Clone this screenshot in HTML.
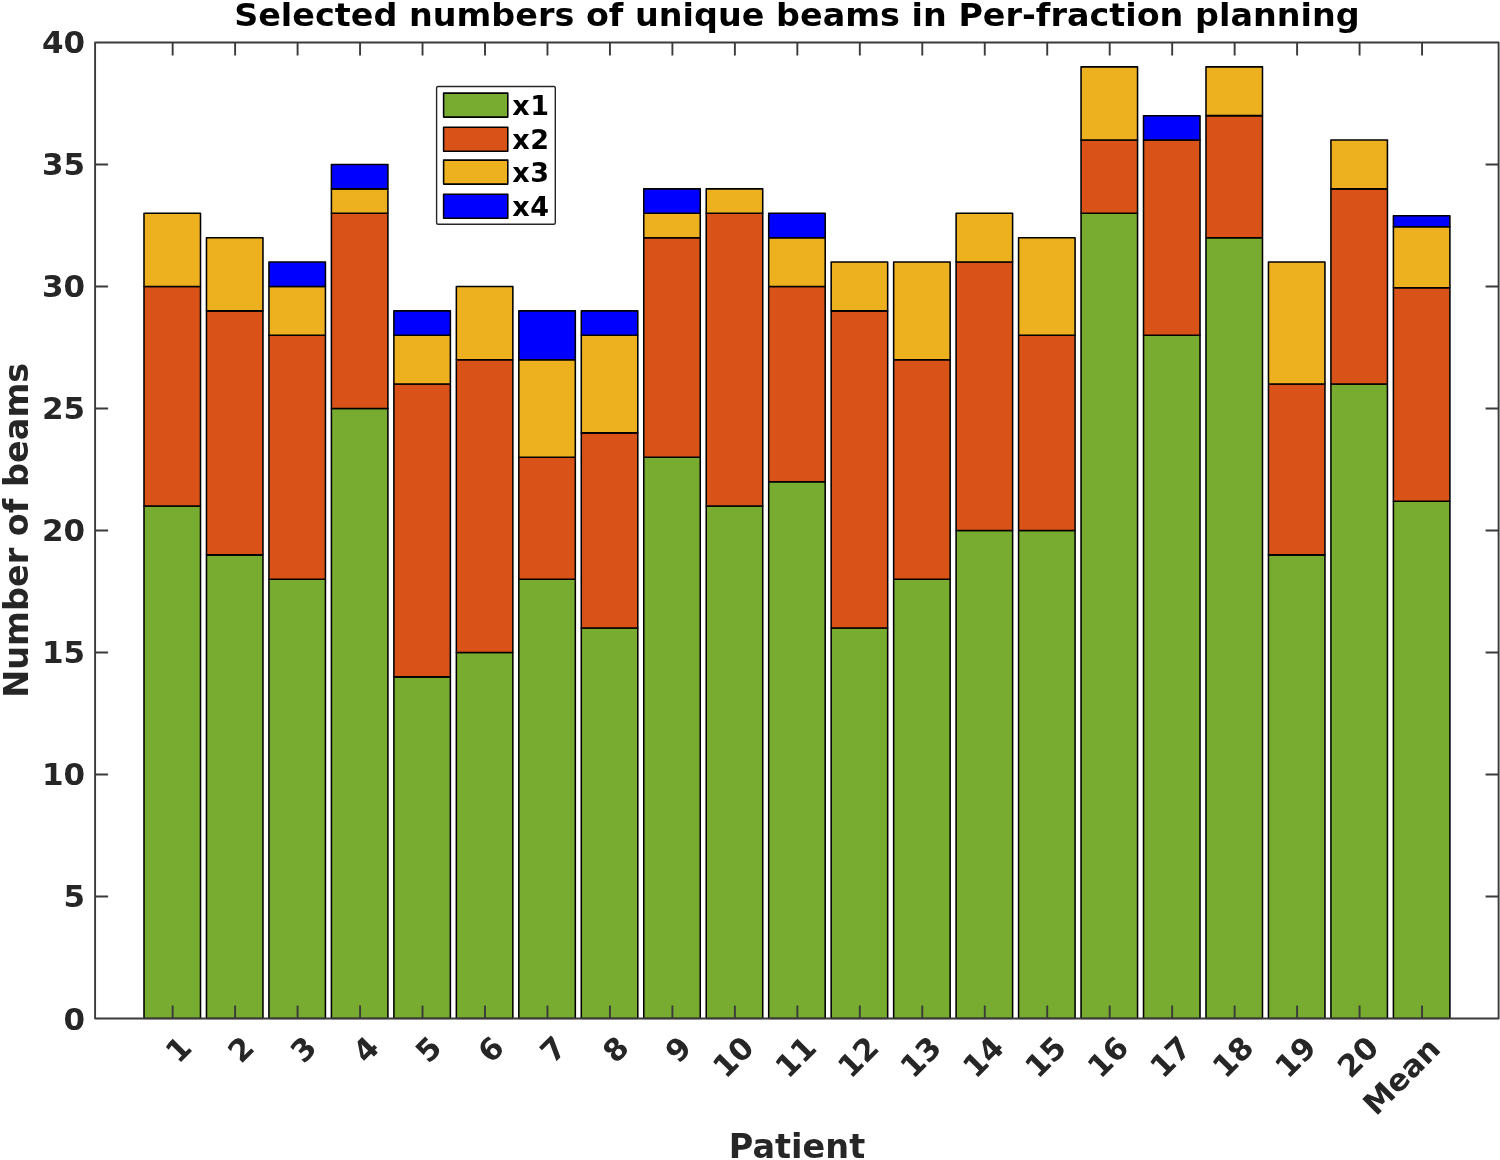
<!DOCTYPE html>
<html lang="en"><head><meta charset="utf-8"><title>Selected numbers of unique beams in Per-fraction planning</title>
<style>html,body{margin:0;padding:0;background:#fff}svg{display:block}text{font-family:"DejaVu Sans","Liberation Sans",sans-serif;font-weight:bold}</style></head><body>
<svg width="1500" height="1160" viewBox="0 0 1500 1160">
<rect width="1500" height="1160" fill="#fff"/>
<clipPath id="plot"><rect x="0" y="0" width="1500" height="1019.40"/></clipPath>
<g clip-path="url(#plot)" stroke="#000" stroke-width="1.55" stroke-linejoin="round">
<rect x="144.00" y="506.07" width="56.50" height="512.43" fill="#77AC30"/>
<rect x="144.00" y="286.46" width="56.50" height="219.61" fill="#D95319"/>
<rect x="144.00" y="213.26" width="56.50" height="73.20" fill="#EDB120"/>
<rect x="206.47" y="554.88" width="56.50" height="463.62" fill="#77AC30"/>
<rect x="206.47" y="310.86" width="56.50" height="244.01" fill="#D95319"/>
<rect x="206.47" y="237.66" width="56.50" height="73.20" fill="#EDB120"/>
<rect x="268.94" y="579.28" width="56.50" height="439.22" fill="#77AC30"/>
<rect x="268.94" y="335.27" width="56.50" height="244.01" fill="#D95319"/>
<rect x="268.94" y="286.46" width="56.50" height="48.80" fill="#EDB120"/>
<rect x="268.94" y="262.06" width="56.50" height="24.40" fill="#0000FF"/>
<rect x="331.41" y="408.47" width="56.50" height="610.03" fill="#77AC30"/>
<rect x="331.41" y="213.26" width="56.50" height="195.21" fill="#D95319"/>
<rect x="331.41" y="188.86" width="56.50" height="24.40" fill="#EDB120"/>
<rect x="331.41" y="164.46" width="56.50" height="24.40" fill="#0000FF"/>
<rect x="393.88" y="676.88" width="56.50" height="341.62" fill="#77AC30"/>
<rect x="393.88" y="384.07" width="56.50" height="292.81" fill="#D95319"/>
<rect x="393.88" y="335.27" width="56.50" height="48.80" fill="#EDB120"/>
<rect x="393.88" y="310.86" width="56.50" height="24.40" fill="#0000FF"/>
<rect x="456.35" y="652.48" width="56.50" height="366.02" fill="#77AC30"/>
<rect x="456.35" y="359.67" width="56.50" height="292.81" fill="#D95319"/>
<rect x="456.35" y="286.46" width="56.50" height="73.20" fill="#EDB120"/>
<rect x="518.82" y="579.28" width="56.50" height="439.22" fill="#77AC30"/>
<rect x="518.82" y="457.27" width="56.50" height="122.01" fill="#D95319"/>
<rect x="518.82" y="359.67" width="56.50" height="97.60" fill="#EDB120"/>
<rect x="518.82" y="310.86" width="56.50" height="48.80" fill="#0000FF"/>
<rect x="581.29" y="628.08" width="56.50" height="390.42" fill="#77AC30"/>
<rect x="581.29" y="432.87" width="56.50" height="195.21" fill="#D95319"/>
<rect x="581.29" y="335.27" width="56.50" height="97.61" fill="#EDB120"/>
<rect x="581.29" y="310.86" width="56.50" height="24.40" fill="#0000FF"/>
<rect x="643.76" y="457.27" width="56.50" height="561.23" fill="#77AC30"/>
<rect x="643.76" y="237.66" width="56.50" height="219.61" fill="#D95319"/>
<rect x="643.76" y="213.26" width="56.50" height="24.40" fill="#EDB120"/>
<rect x="643.76" y="188.86" width="56.50" height="24.40" fill="#0000FF"/>
<rect x="706.23" y="506.07" width="56.50" height="512.43" fill="#77AC30"/>
<rect x="706.23" y="213.26" width="56.50" height="292.81" fill="#D95319"/>
<rect x="706.23" y="188.86" width="56.50" height="24.40" fill="#EDB120"/>
<rect x="768.70" y="481.67" width="56.50" height="536.83" fill="#77AC30"/>
<rect x="768.70" y="286.46" width="56.50" height="195.21" fill="#D95319"/>
<rect x="768.70" y="237.66" width="56.50" height="48.80" fill="#EDB120"/>
<rect x="768.70" y="213.26" width="56.50" height="24.40" fill="#0000FF"/>
<rect x="831.17" y="628.08" width="56.50" height="390.42" fill="#77AC30"/>
<rect x="831.17" y="310.86" width="56.50" height="317.22" fill="#D95319"/>
<rect x="831.17" y="262.06" width="56.50" height="48.80" fill="#EDB120"/>
<rect x="893.64" y="579.28" width="56.50" height="439.22" fill="#77AC30"/>
<rect x="893.64" y="359.67" width="56.50" height="219.61" fill="#D95319"/>
<rect x="893.64" y="262.06" width="56.50" height="97.61" fill="#EDB120"/>
<rect x="956.11" y="530.48" width="56.50" height="488.02" fill="#77AC30"/>
<rect x="956.11" y="262.06" width="56.50" height="268.41" fill="#D95319"/>
<rect x="956.11" y="213.26" width="56.50" height="48.80" fill="#EDB120"/>
<rect x="1018.58" y="530.48" width="56.50" height="488.02" fill="#77AC30"/>
<rect x="1018.58" y="335.27" width="56.50" height="195.21" fill="#D95319"/>
<rect x="1018.58" y="237.66" width="56.50" height="97.61" fill="#EDB120"/>
<rect x="1081.05" y="213.26" width="56.50" height="805.24" fill="#77AC30"/>
<rect x="1081.05" y="140.06" width="56.50" height="73.20" fill="#D95319"/>
<rect x="1081.05" y="66.85" width="56.50" height="73.20" fill="#EDB120"/>
<rect x="1143.52" y="335.27" width="56.50" height="683.23" fill="#77AC30"/>
<rect x="1143.52" y="140.06" width="56.50" height="195.21" fill="#D95319"/>
<rect x="1143.52" y="115.65" width="56.50" height="24.40" fill="#0000FF"/>
<rect x="1205.99" y="237.66" width="56.50" height="780.84" fill="#77AC30"/>
<rect x="1205.99" y="115.65" width="56.50" height="122.01" fill="#D95319"/>
<rect x="1205.99" y="66.85" width="56.50" height="48.80" fill="#EDB120"/>
<rect x="1268.46" y="554.88" width="56.50" height="463.62" fill="#77AC30"/>
<rect x="1268.46" y="384.07" width="56.50" height="170.81" fill="#D95319"/>
<rect x="1268.46" y="262.06" width="56.50" height="122.01" fill="#EDB120"/>
<rect x="1330.93" y="384.07" width="56.50" height="634.43" fill="#77AC30"/>
<rect x="1330.93" y="188.86" width="56.50" height="195.21" fill="#D95319"/>
<rect x="1330.93" y="140.06" width="56.50" height="48.80" fill="#EDB120"/>
<rect x="1393.40" y="501.19" width="56.50" height="517.31" fill="#77AC30"/>
<rect x="1393.40" y="287.68" width="56.50" height="213.51" fill="#D95319"/>
<rect x="1393.40" y="226.68" width="56.50" height="61.00" fill="#EDB120"/>
<rect x="1393.40" y="215.70" width="56.50" height="10.98" fill="#0000FF"/>
</g>
<g stroke="#3a3a3a" stroke-width="1.90" fill="none" stroke-linejoin="round">
<rect x="95.10" y="42.45" width="1403.50" height="976.05"/>
<path d="M172.65 1018.50v-13.00M172.65 42.45v13.00"/>
<path d="M235.12 1018.50v-13.00M235.12 42.45v13.00"/>
<path d="M297.59 1018.50v-13.00M297.59 42.45v13.00"/>
<path d="M360.06 1018.50v-13.00M360.06 42.45v13.00"/>
<path d="M422.53 1018.50v-13.00M422.53 42.45v13.00"/>
<path d="M485.00 1018.50v-13.00M485.00 42.45v13.00"/>
<path d="M547.47 1018.50v-13.00M547.47 42.45v13.00"/>
<path d="M609.94 1018.50v-13.00M609.94 42.45v13.00"/>
<path d="M672.41 1018.50v-13.00M672.41 42.45v13.00"/>
<path d="M734.88 1018.50v-13.00M734.88 42.45v13.00"/>
<path d="M797.35 1018.50v-13.00M797.35 42.45v13.00"/>
<path d="M859.82 1018.50v-13.00M859.82 42.45v13.00"/>
<path d="M922.29 1018.50v-13.00M922.29 42.45v13.00"/>
<path d="M984.76 1018.50v-13.00M984.76 42.45v13.00"/>
<path d="M1047.23 1018.50v-13.00M1047.23 42.45v13.00"/>
<path d="M1109.70 1018.50v-13.00M1109.70 42.45v13.00"/>
<path d="M1172.17 1018.50v-13.00M1172.17 42.45v13.00"/>
<path d="M1234.64 1018.50v-13.00M1234.64 42.45v13.00"/>
<path d="M1297.11 1018.50v-13.00M1297.11 42.45v13.00"/>
<path d="M1359.58 1018.50v-13.00M1359.58 42.45v13.00"/>
<path d="M1422.05 1018.50v-13.00M1422.05 42.45v13.00"/>
<path d="M95.10 896.49h13.00M1498.60 896.49h-13.00"/>
<path d="M95.10 774.49h13.00M1498.60 774.49h-13.00"/>
<path d="M95.10 652.48h13.00M1498.60 652.48h-13.00"/>
<path d="M95.10 530.48h13.00M1498.60 530.48h-13.00"/>
<path d="M95.10 408.47h13.00M1498.60 408.47h-13.00"/>
<path d="M95.10 286.46h13.00M1498.60 286.46h-13.00"/>
<path d="M95.10 164.46h13.00M1498.60 164.46h-13.00"/>
</g>
<g fill="#262626" font-size="31.00" text-anchor="end">
<text x="85.20" y="1029.50">0</text>
<text x="85.20" y="907.49">5</text>
<text x="85.20" y="785.49">10</text>
<text x="85.20" y="663.48">15</text>
<text x="85.20" y="541.48">20</text>
<text x="85.20" y="419.47">25</text>
<text x="85.20" y="297.46">30</text>
<text x="85.20" y="175.46">35</text>
<text x="85.20" y="53.45">40</text>
</g>
<g fill="#262626" font-size="30.50" text-anchor="end">
<text transform="translate(193.55 1049.50) rotate(-45)">1</text>
<text transform="translate(256.02 1049.50) rotate(-45)">2</text>
<text transform="translate(318.49 1049.50) rotate(-45)">3</text>
<text transform="translate(380.96 1049.50) rotate(-45)">4</text>
<text transform="translate(443.43 1049.50) rotate(-45)">5</text>
<text transform="translate(505.90 1049.50) rotate(-45)">6</text>
<text transform="translate(568.37 1049.50) rotate(-45)">7</text>
<text transform="translate(630.84 1049.50) rotate(-45)">8</text>
<text transform="translate(693.31 1049.50) rotate(-45)">9</text>
<text transform="translate(755.78 1049.50) rotate(-45)">10</text>
<text transform="translate(818.25 1049.50) rotate(-45)">11</text>
<text transform="translate(880.72 1049.50) rotate(-45)">12</text>
<text transform="translate(943.19 1049.50) rotate(-45)">13</text>
<text transform="translate(1005.66 1049.50) rotate(-45)">14</text>
<text transform="translate(1068.13 1049.50) rotate(-45)">15</text>
<text transform="translate(1130.60 1049.50) rotate(-45)">16</text>
<text transform="translate(1193.07 1049.50) rotate(-45)">17</text>
<text transform="translate(1255.54 1049.50) rotate(-45)">18</text>
<text transform="translate(1318.01 1049.50) rotate(-45)">19</text>
<text transform="translate(1380.48 1049.50) rotate(-45)">20</text>
<text transform="translate(1442.05 1050.70) rotate(-45)">Mean</text>
</g>
<text x="797.00" y="1157.60" font-size="33.50" fill="#262626" text-anchor="middle">Patient</text>
<text transform="translate(27.50 530.30) rotate(-90)" font-size="33.50" fill="#262626" text-anchor="middle">Number of beams</text>
<text transform="translate(796.90 26.30) scale(1 0.98)" font-size="33.42" fill="#000" text-anchor="middle">Selected numbers of unique beams in Per-fraction planning</text>
<rect x="436.60" y="86.50" width="118.70" height="137.70" rx="1.5" fill="#fff" stroke="#262626" stroke-width="1.40" stroke-linejoin="round"/>
<g stroke="#000" stroke-width="1.55" stroke-linejoin="round">
<rect x="443.60" y="93.10" width="64.20" height="24.00" fill="#77AC30"/>
<rect x="443.60" y="127.30" width="64.20" height="24.00" fill="#D95319"/>
<rect x="443.60" y="160.10" width="64.20" height="24.00" fill="#EDB120"/>
<rect x="443.60" y="194.30" width="64.20" height="24.00" fill="#0000FF"/>
</g>
<g fill="#000" font-size="27.00" letter-spacing="0.6">
<text x="512.20" y="114.70">x1</text>
<text x="512.20" y="148.90">x2</text>
<text x="512.20" y="181.70">x3</text>
<text x="512.20" y="215.90">x4</text>
</g>
</svg></body></html>
